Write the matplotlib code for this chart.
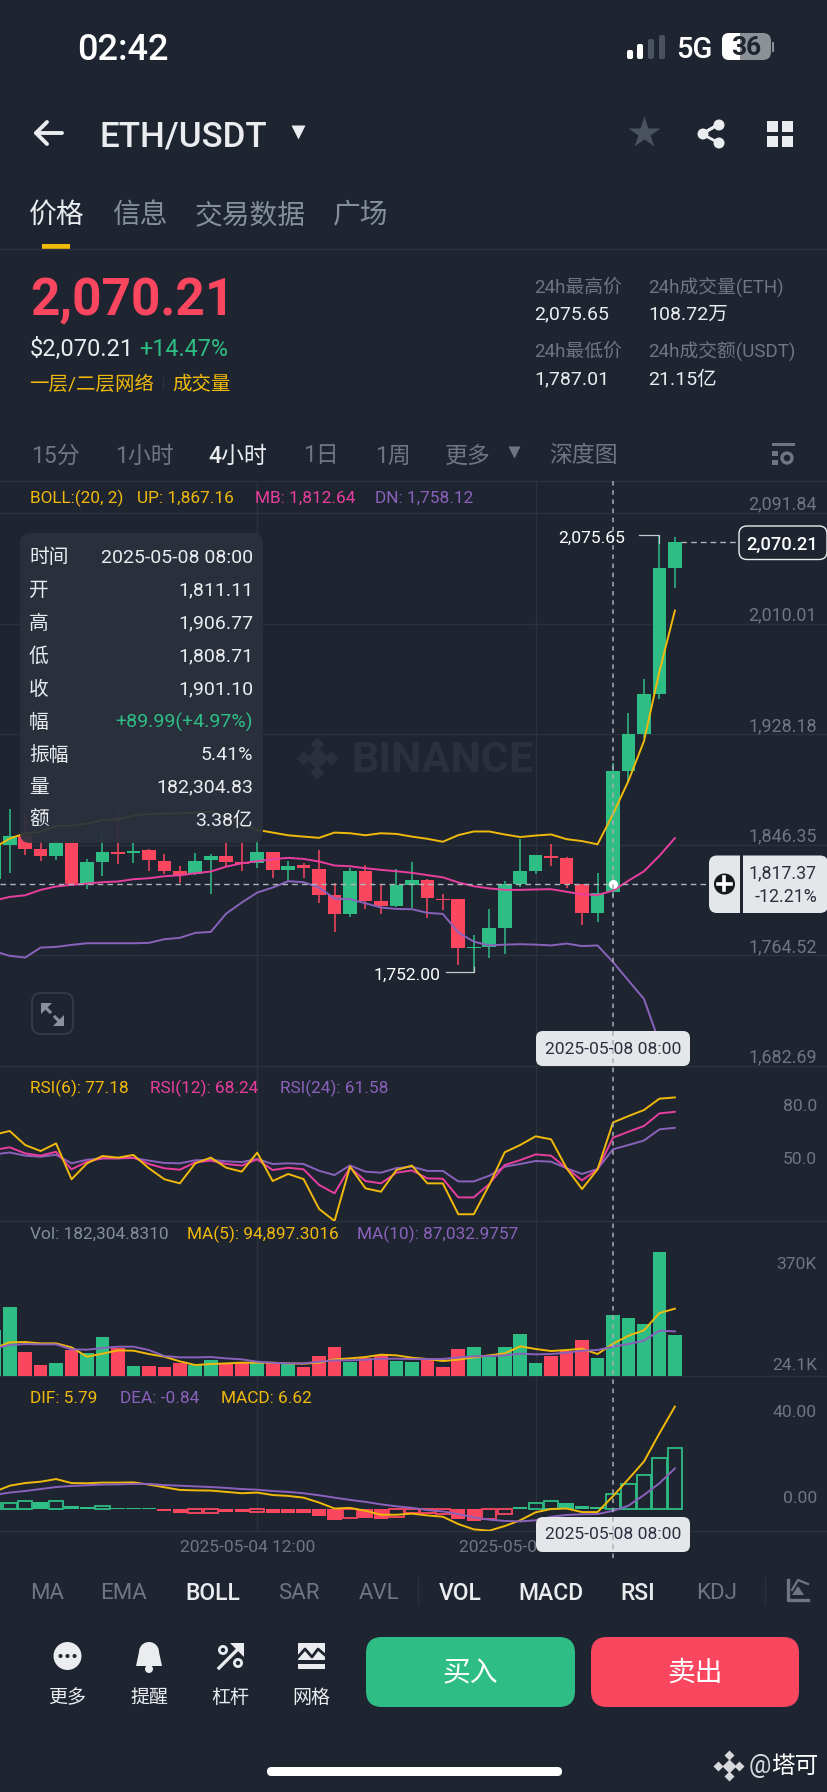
import matplotlib
matplotlib.use('Agg')
import matplotlib.pyplot as plt
from matplotlib.patches import FancyBboxPatch, Rectangle, Circle, Polygon

plt.rcParams['font.family'] = ['Roboto', 'Noto Sans CJK SC', 'DejaVu Sans']

# index -1 is the candle cut off by the left edge
idx = list(range(-1, 44))

opens = [1820.9, 1846.0, 1853.4, 1843.1, 1838.4, 1847.8, 1817.7, 1833.7, 1841.1, 1840.1, 1842.3, 1834.7, 1826.6, 1824.8, 1834.9,
         1838.1, 1833.7, 1832.7, 1841.1, 1828.0, 1831.2, 1828.5, 1809.0, 1795.0, 1826.8, 1804.6, 1801.4, 1816.9, 1820.4, 1806.1,
         1806.1, 1770.0, 1770.6, 1785.1, 1817.1, 1826.7, 1838.2, 1836.3, 1817.4, 1796.0, 1811.11, 1901.1, 1928.5, 1957.8, 2051.1]
closes = [1846.8, 1852.9, 1843.1, 1838.4, 1847.8, 1817.7, 1833.5, 1841.1, 1839.9, 1842.1, 1835.2, 1826.8, 1824.3, 1834.4, 1838.4,
          1833.9, 1832.5, 1840.9, 1828.0, 1830.7, 1829.0, 1809.3, 1795.0, 1826.8, 1804.9, 1801.4, 1816.7, 1820.1, 1806.7, 1805.6,
          1770.3, 1770.6, 1785.1, 1817.1, 1826.7, 1838.5, 1836.5, 1817.4, 1796.0, 1810.8, 1901.1, 1928.5, 1957.8, 2051.1, 2070.21]
highs = [1846.8, 1873.2, 1870.2, 1849.2, 1851.0, 1851.7, 1835.7, 1854.7, 1870.9, 1848.0, 1843.6, 1839.4, 1830.7, 1840.4, 1839.4,
         1848.5, 1848.5, 1849.7, 1841.1, 1834.2, 1833.2, 1842.3, 1818.4, 1829.5, 1831.5, 1817.2, 1828.7, 1833.7, 1821.2, 1809.7,
         1806.1, 1779.6, 1799.0, 1819.8, 1850.5, 1838.5, 1847.2, 1837.4, 1817.4, 1825.8, 1906.77, 1943.8, 1968.7, 2075.65, 2074.1]
lows = [1811.0, 1825.8, 1838.9, 1834.0, 1835.4, 1817.7, 1813.5, 1823.3, 1832.0, 1833.0, 1827.0, 1824.8, 1817.9, 1824.3, 1810.3,
        1830.7, 1827.0, 1829.5, 1822.1, 1819.6, 1822.1, 1803.1, 1782.2, 1793.3, 1798.7, 1795.0, 1800.4, 1799.9, 1792.5, 1797.9,
        1757.7, 1752.0, 1762.4, 1765.9, 1814.9, 1824.5, 1830.8, 1814.6, 1787.0, 1789.2, 1808.71, 1892.4, 1925.2, 1953.9, 2036.6]

boll_up = [1844.3, 1850.9, 1854.9, 1855.9, 1860.4, 1860.4, 1862.1, 1864.6, 1865.3, 1868.0, 1869.2, 1869.5, 1869.7, 1870.0, 1870.9,
           1866.5, 1861.6, 1857.4, 1855.4, 1853.4, 1852.4, 1851.5, 1855.4, 1854.9, 1853.4, 1854.9, 1854.4, 1852.4, 1850.8, 1848.6,
           1853.5, 1856.2, 1856.2, 1854.0, 1852.1, 1853.2, 1854.0, 1850.5, 1849.1, 1846.7, 1869.1, 1893.7, 1923.0, 1974.5, 2019.6]
boll_mb = [1805.1, 1807.8, 1809.0, 1813.0, 1815.5, 1816.7, 1817.7, 1818.7, 1819.2, 1820.9, 1821.6, 1823.1, 1823.8, 1825.3, 1826.6,
           1830.2, 1832.7, 1834.2, 1835.7, 1836.7, 1835.9, 1834.0, 1831.0, 1830.5, 1829.0, 1827.8, 1826.8, 1825.6, 1823.9, 1822.3,
           1818.5, 1815.7, 1814.1, 1813.0, 1813.0, 1813.3, 1813.5, 1811.6, 1809.7, 1809.2, 1812.4, 1819.8, 1826.7, 1838.2, 1851.3]
boll_dn = [1767.6, 1764.2, 1762.9, 1770.3, 1770.8, 1772.3, 1773.5, 1773.5, 1773.5, 1773.5, 1773.8, 1776.5, 1777.5, 1781.2, 1781.9,
           1795.5, 1803.6, 1811.0, 1814.7, 1819.4, 1818.7, 1814.7, 1806.6, 1806.1, 1803.1, 1799.9, 1798.9, 1798.7, 1796.0, 1795.2,
           1781.5, 1774.7, 1771.9, 1772.5, 1772.8, 1772.5, 1771.9, 1773.3, 1771.4, 1771.9, 1759.6, 1745.9, 1732.3, 1700.0, 1683.0]

rsi6 = [63.3, 65.4, 57.5, 54.1, 58.4, 38.2, 47.2, 51.3, 50.4, 51.9, 44.4, 38.2, 35.9, 47.2, 50.4,
        44.7, 42.5, 53.2, 37.2, 41.2, 38.3, 21.5, 14.7, 45.3, 33.1, 31.2, 43.4, 45.9, 35.9, 35.9,
        18.5, 18.5, 35.0, 53.4, 57.5, 62.4, 60.7, 44.4, 32.7, 43.8, 70.2, 73.8, 77.2, 83.6, 84.3]
rsi12 = [54.7, 56.2, 52.8, 51.5, 53.7, 43.8, 48.1, 50.0, 50.0, 50.4, 46.8, 44.4, 43.6, 47.7, 48.7,
         46.8, 45.9, 49.4, 43.4, 44.7, 43.8, 35.0, 30.3, 44.9, 37.2, 35.9, 41.9, 43.2, 38.7, 38.5,
         28.0, 28.0, 35.5, 46.2, 49.0, 52.2, 51.5, 44.4, 37.6, 43.8, 61.6, 65.0, 68.2, 75.3, 76.2]
rsi24 = [52.2, 53.3, 51.5, 50.9, 52.0, 47.2, 49.2, 50.0, 50.0, 50.2, 48.7, 47.4, 47.2, 48.9, 49.2,
         48.3, 47.9, 49.6, 46.8, 47.2, 46.8, 43.0, 40.6, 46.0, 42.5, 41.9, 44.5, 45.3, 42.9, 42.9,
         37.0, 37.0, 40.2, 45.3, 46.8, 48.5, 48.1, 44.4, 41.2, 44.0, 55.1, 57.5, 60.0, 66.3, 67.2]

# volumes in thousands
vols = [137, 207, 71, 33, 37, 77, 67, 116, 83, 30, 28, 26, 39, 32, 47,
        38, 40, 38, 38, 35, 27, 59, 86, 42, 52, 61, 43, 42, 50, 25,
        80, 86, 55, 86, 126, 38, 58, 75, 106, 52, 182.3, 174, 155, 370, 123]
vol_ma5 = [82, 100, 101, 97, 97, 85, 57, 66, 76, 75, 65, 57, 43, 32, 35,
           37, 39, 39, 39, 37, 36, 39, 49, 52, 56, 63, 61, 54, 50, 44,
           48, 55, 61, 67, 88, 80, 74, 77, 81, 65, 96, 120, 136, 188, 201]
vol_ma10 = [82, 92, 95, 94, 94, 79, 78, 83, 87, 87, 77, 59, 55, 55, 56,
            52, 49, 42, 39, 37, 37, 42, 46, 46, 48, 51, 51, 50, 50, 50,
            55, 58, 59, 61, 66, 64, 65, 69, 75, 77, 87, 95, 105, 135, 133]

dif = [7.7, 10.5, 11.7, 12.3, 13.5, 11.7, 11.6, 11.9, 11.9, 12.0, 11.0, 9.8, 8.6, 8.4, 8.3,
       7.7, 7.1, 7.4, 6.3, 5.9, 5.1, 2.9, 0.2, 0.5, -0.8, -2.6, -2.6, -2.1, -2.9, -3.5,
       -6.8, -9.2, -9.8, -7.7, -5.1, -1.5, 0.0, 0.2, -1.4, -1.4, 5.79, 13.5, 21.4, 34.1, 46.2]
dea = [6.3, 7.4, 8.1, 9.0, 9.9, 10.4, 10.7, 11.0, 11.1, 11.3, 11.3, 10.8, 10.5, 10.2, 9.9,
       9.5, 9.0, 8.7, 8.1, 7.7, 7.1, 6.2, 5.1, 4.1, 3.2, 2.1, 1.2, 0.5, -0.5, -1.1,
       -2.3, -3.8, -4.8, -5.4, -5.6, -5.1, -3.5, -2.7, -2.4, -2.3, -0.84, 1.5, 6.3, 11.6, 18.3]
macd = [2.9, 2.9, 3.8, 3.2, 3.8, 1.4, 0.8, 1.4, 0.6, 0.6, 0.6, -0.8, -1.7, -2.0, -1.7,
        -1.4, -1.5, -1.4, -1.7, -1.8, -2.0, -3.2, -4.8, -3.9, -4.1, -4.5, -3.8, -2.0, -1.7, -2.4,
        -4.5, -5.4, -4.5, -2.4, 1.1, 2.6, 3.8, 2.9, 1.2, 0.9, 6.62, 11.3, 15.5, 23.0, 27.7]
macd_hollow = [1, 1, 1, 0, 1, 0, 0, 1, 0, 0, 0, 0, 0, 1, 1,
               0, 0, 1, 0, 0, 0, 0, 0, 1, 0, 0, 1, 1, 1, 1,
               0, 0, 1, 1, 0, 1, 1, 0, 0, 0, 1, 1, 1, 1, 1]

price_ticks = [2091.84, 2010.01, 1928.18, 1846.35, 1764.52, 1682.69]
tooltip_names = ['时间', '开', '高', '低', '收', '幅', '振幅', '量', '额']
tooltip_vals = ['2025-05-08 08:00', '1,811.11', '1,906.77', '1,808.71', '1,901.10', '+89.99(+4.97%)', '5.41%', '182,304.83', '3.38亿']

BG = '#1e2530'
GRID = '#2b323e'
GREEN = '#2ebd85'
RED = '#fb4660'
YELLOW = '#f0b90b'
PINK = '#e83e9f'
PURPLE = '#8a62bc'
GRAY = '#848e9c'
DIM = '#6f7682'
WHITE = '#eaecef'
LIGHT = '#e4e6ea'

colors = [GREEN if c >= o else RED for o, c in zip(opens, closes)]

fig = plt.figure(figsize=(8.28, 17.92), dpi=100, facecolor=BG)


def chrome(z):
    a = fig.add_axes([0, 0, 1, 1], zorder=z)
    a.set_xlim(0, 828)
    a.set_ylim(1792, 0)
    a.axis('off')
    a.patch.set_alpha(0)
    return a


def panel(y0, y1, ymin, ymax):
    a = fig.add_axes([0, 1 - y1 / 1792, 1, (y1 - y0) / 1792], zorder=1)
    a.set_xlim(-9.67 / 15.47, (828 - 9.67) / 15.47)
    a.set_ylim(ymin, ymax)
    a.axis('off')
    a.patch.set_alpha(0)
    return a


def txt(a, x, y, s, size, color, ha='left', weight='normal'):
    # va center sits a little high for these fonts, so push down with the size
    a.text(x, y + size * 0.12, s, fontsize=size, color=color, ha=ha, va='center', fontweight=weight)


def box(a, x0, y0, x1, y1, r, **kw):
    a.add_patch(FancyBboxPatch((x0 + r, y0 + r), x1 - x0 - 2 * r, y1 - y0 - 2 * r,
                               boxstyle='round,pad=%f,rounding_size=%f' % (r, r), **kw))


back = chrome(0)
top = chrome(2)
over = chrome(3)

# ---- status bar and header
txt(back, 77, 47, '02:42', 26, 'white', weight='medium')
for x, y0, c in zip([627, 637, 648, 659], [50, 44, 39, 35], ['white', 'white', '#4a5260', '#4a5260']):
    box(back, x, y0, x + 6, 59, 2, fc=c, ec='none')
txt(back, 676, 47, '5G', 21, 'white', weight='medium')
box(back, 722, 33, 771, 60, 8, fc='#8c9097', ec='none')
box(back, 722, 33, 740, 60, 7, fc='white', ec='none')
back.add_patch(Rectangle((733, 33), 7, 27, fc='white', ec='none'))
txt(back, 746, 46, '36', 19, BG, ha='center', weight='bold')
back.add_patch(Rectangle((772.5, 42), 2, 10, fc='#8c9097', ec='none'))

back.plot([36, 62], [133, 133], color=WHITE, lw=2.8, solid_capstyle='round')
back.plot([47, 36, 47], [122, 133, 144], color=WHITE, lw=2.8, solid_capstyle='round')
txt(back, 100, 134, 'ETH/USDT', 25.2, WHITE, weight='medium')
back.plot(298, 132, marker='v', ms=10, color=WHITE, mec='none')
back.plot(644, 133, marker='*', ms=24, color='#4a5260', mec='none')
back.plot([702, 719, 702, 719], [134, 124, 134, 143], color=WHITE, lw=2)
for x, y in [(703, 134), (719, 125), (719, 143)]:
    back.add_patch(Circle((x, y), 5.5, fc=WHITE, ec='none'))
for x, y in [(767, 121), (782, 121), (767, 136), (782, 136)]:
    back.add_patch(Rectangle((x, y), 11.5, 11.5, fc=WHITE, ec='none'))

txt(back, 29, 213, '价格', 20, WHITE)
txt(back, 112, 213, '信息', 20, GRAY)
txt(back, 195, 213, '交易数据', 20, GRAY)
txt(back, 333, 213, '广场', 20, GRAY)
back.add_patch(Rectangle((42, 244), 28, 5, fc=YELLOW, ec='none'))
back.plot([0, 828], [249.5, 249.5], color=GRID, lw=1)

# ---- price block
txt(back, 30, 297, '2,070.21', 37, RED, weight='bold')
txt(back, 30, 347, '$2,070.21', 17, WHITE)
txt(back, 139, 347, '+14.47%', 16.8, GREEN)
txt(back, 29, 383, '一层/二层网络', 14, YELLOW)
back.plot([163, 163], [377, 389], color=GRID, lw=1)
txt(back, 172, 383, '成交量', 14, YELLOW)
txt(back, 534, 286, '24h最高价', 13.5, DIM)
txt(back, 648, 286, '24h成交量(ETH)', 13.5, DIM)
txt(back, 534, 313, '2,075.65', 14, WHITE)
txt(back, 648, 313, '108.72万', 14, WHITE)
txt(back, 534, 350, '24h最低价', 13.5, DIM)
txt(back, 648, 350, '24h成交额(USDT)', 13.5, DIM)
txt(back, 534, 378, '1,787.01', 14, WHITE)
txt(back, 648, 378, '21.15亿', 14, WHITE)

# ---- interval row
for x, s in zip([31, 115, 303, 375, 445, 549], ['15分', '1小时', '1日', '1周', '更多', '深度图']):
    txt(back, x, 454, s, 16.5, DIM)
txt(back, 208, 454, '4小时', 16.5, WHITE, weight='medium')
back.plot(514, 452, marker='v', ms=8, color=DIM, mec='none')
back.add_patch(Rectangle((772, 443), 23, 3, fc=DIM, ec='none'))
back.add_patch(Rectangle((772, 451), 6, 5, fc=DIM, ec='none'))
back.add_patch(Rectangle((772, 460), 6, 5, fc=DIM, ec='none'))
back.add_patch(Circle((787, 458), 5, fc='none', ec=DIM, lw=2.4))

# ---- grid behind the panels
for y in [481, 513, 1066, 1221, 1376, 1530.7]:
    back.plot([0, 828], [y, y], color=GRID, lw=1)
for x in [257, 535.7]:
    back.plot([x, x], [481, 1530.7], color=GRID, lw=1)

# ---- watermark
back.text(351, 761, 'BINANCE', fontsize=31, color='#2a313d', va='center', fontweight='bold')
for x, y, s in [(317, 758, 11), (303, 758, 7), (331, 758, 7), (317, 744, 7), (317, 772, 7)]:
    back.plot(x, y, marker='D', ms=s, color='#2a313d', mec='none')

# ---- candles
ax_price = panel(513, 1066, price_ticks[-1], price_ticks[0])
for y in price_ticks[1:-1]:
    ax_price.axhline(y, color=GRID, lw=1, zorder=0)
ax_price.vlines(idx, lows, highs, colors=colors, lw=1.1, zorder=2)
ax_price.bar(idx, [abs(c - o) for o, c in zip(opens, closes)], bottom=[min(o, c) for o, c in zip(opens, closes)],
             width=0.885, color=colors, zorder=2)
ax_price.plot(idx, boll_up, color=YELLOW, lw=1.4, zorder=3)
ax_price.plot(idx, boll_mb, color=PINK, lw=1.4, zorder=3)
ax_price.plot(idx, boll_dn, color=PURPLE, lw=1.4, zorder=3)
ax_price.axhline(1817.37, xmin=0, xmax=709 / 828, color='#aeb3ba', lw=1, dashes=(4, 3), zorder=4)
ax_price.plot([43.4, 52], [2070.21, 2070.21], color='#aeb3ba', lw=1, dashes=(4, 3), zorder=4)
ax_price.plot(39, 1817.37, 'o', ms=6.5, color='white', mec='none', zorder=6)
ax_price.plot([40.7, 42, 42], [2075.65, 2075.65, 2070], color='#c4c8ce', lw=0.9, zorder=5)
ax_price.plot([28.2, 30, 30], [1752.0, 1752.0, 1756], color='#c4c8ce', lw=0.9, zorder=5)
for y in price_ticks:
    ax_price.annotate(format(y, ',.2f'), xy=(1, y), xycoords=('axes fraction', 'data'),
                      xytext=(-8, 6), textcoords='offset points', fontsize=12.9, color=DIM,
                      ha='right', va='center', annotation_clip=False)

txt(back, 30, 497, 'BOLL:(20, 2)', 12.4, YELLOW)
txt(back, 137, 497, 'UP: 1,867.16', 12.4, YELLOW)
txt(back, 255, 497, 'MB: 1,812.64', 12.4, PINK)
txt(back, 375, 497, 'DN: 1,758.12', 12.4, PURPLE)

# ---- RSI
ax_rsi = panel(1066, 1221, 14.7, 102)
ax_rsi.plot(idx, rsi24, color=PURPLE, lw=1.4)
ax_rsi.plot(idx, rsi12, color=PINK, lw=1.4)
ax_rsi.plot(idx, rsi6, color=YELLOW, lw=1.4)
txt(back, 30, 1087, 'RSI(6): 77.18', 12.4, YELLOW)
txt(back, 150, 1087, 'RSI(12): 68.24', 12.4, PINK)
txt(back, 280, 1087, 'RSI(24): 61.58', 12.4, PURPLE)
txt(back, 817, 1105, '80.0', 12.6, DIM, ha='right')
txt(back, 817, 1158, '50.0', 12.6, DIM, ha='right')

# ---- volume
ax_vol = panel(1221, 1375.7, 0, 464)
ax_vol.bar(idx, vols, width=0.885, color=colors)
ax_vol.plot(idx, vol_ma5, color=YELLOW, lw=1.4)
ax_vol.plot(idx, vol_ma10, color=PURPLE, lw=1.4)
txt(back, 30, 1233, 'Vol: 182,304.8310', 12.4, GRAY)
txt(back, 187, 1233, 'MA(5): 94,897.3016', 12.4, YELLOW)
txt(back, 357, 1233, 'MA(10): 87,032.9757', 12.4, PURPLE)
txt(back, 817, 1263, '370K', 12.6, DIM, ha='right')
txt(back, 817, 1364, '24.1K', 12.6, DIM, ha='right')

# ---- MACD
ax_macd = panel(1376, 1530.7, -9.8, 60)
for i, m, h in zip(idx, macd, macd_hollow):
    c = GREEN if m >= 0 else RED
    if h:
        ax_macd.bar(i, m, width=0.92, facecolor='none', edgecolor=c, lw=1.3)
    else:
        ax_macd.bar(i, m, width=0.92, color=c)
ax_macd.plot(idx, dif, color=YELLOW, lw=1.4)
ax_macd.plot(idx, dea, color=PURPLE, lw=1.4)
txt(back, 30, 1397, 'DIF: 5.79', 12.4, YELLOW)
txt(back, 120, 1397, 'DEA: -0.84', 12.4, PURPLE)
txt(back, 221, 1397, 'MACD: 6.62', 12.4, YELLOW)
txt(back, 817, 1411, '40.00', 12.6, DIM, ha='right')
txt(back, 817, 1497, '0.00', 12.6, DIM, ha='right')

txt(back, 248, 1546, '2025-05-04 12:00', 12.5, DIM, ha='center')
txt(back, 527, 1546, '2025-05-07 12:00', 12.5, DIM, ha='center')

# ---- crosshair and overlays
top.plot([613, 613], [481, 1562], color='#a8adb5', lw=1.1, dashes=(3, 3))

box(top, 20, 533, 263, 843, 10, fc='#2a313d', ec='none', alpha=0.93)
for y, n, v in zip([556, 589, 621.7, 654.7, 687.3, 720.3, 753.3, 786, 819], tooltip_names, tooltip_vals):
    txt(top, 29, y, n, 14.2, WHITE)
    txt(top, 253, y, v, 14, GREEN if v.startswith('+') else WHITE, ha='right')

txt(top, 625, 537, '2,075.65', 12.6, 'white', ha='right')
txt(top, 441, 974, '1,752.00', 12.6, 'white', ha='right')
box(top, 739, 526, 827, 559.5, 8, fc=BG, ec=WHITE, lw=1)
txt(top, 782.5, 543, '2,070.21', 13.2, 'white', ha='center', weight='medium')

box(top, 709, 855.5, 828, 913, 8, fc=LIGHT, ec='none')
top.add_patch(Rectangle((740.5, 855.5), 2.5, 57.5, fc=BG, ec='none'))
top.add_patch(Circle((724.5, 884), 10.5, fc='#15191f', ec='none'))
top.plot([718, 731], [884, 884], color='white', lw=2.6)
top.plot([724.5, 724.5], [877.5, 890.5], color='white', lw=2.6)
txt(top, 817, 872, '1,817.37', 12.8, '#2a313d', ha='right')
txt(top, 817, 895, '-12.21%', 12.8, '#2a313d', ha='right')

box(top, 536, 1031, 690, 1066, 7, fc=LIGHT, ec='none')
txt(top, 613, 1048, '2025-05-08 08:00', 12.6, '#2a313d', ha='center')
box(top, 536, 1517, 690, 1552, 7, fc=LIGHT, ec='none')
txt(top, 613, 1533, '2025-05-08 08:00', 12.6, '#2a313d', ha='center')

# expand button
box(back, 32, 993, 73, 1034, 9, fc='none', ec='#343b47', lw=1.4)
back.add_patch(Polygon([[41, 1003], [52, 1003], [41, 1014]], fc='#8a909c', ec='none'))
back.add_patch(Polygon([[64, 1026], [53, 1026], [64, 1015]], fc='#8a909c', ec='none'))
back.plot([45, 50], [1007, 1012], color='#8a909c', lw=2.2)
back.plot([55, 60], [1017, 1022], color='#8a909c', lw=2.2)

# ---- indicator tabs
for x, s in zip([30, 100, 278, 359, 696], ['MA', 'EMA', 'SAR', 'AVL', 'KDJ']):
    txt(back, x, 1592, s, 16, DIM)
for x, s in zip([185, 439, 518, 620], ['BOLL', 'VOL', 'MACD', 'RSI']):
    txt(back, x, 1592, s, 16.5, WHITE, weight='medium')
back.plot([418, 418], [1577, 1605], color=GRID, lw=1)
back.plot([765, 765], [1577, 1605], color=GRID, lw=1)
back.plot([788, 788, 808], [1580, 1600, 1600], color=DIM, lw=2.4)
back.add_patch(Polygon([[792, 1595], [798, 1586], [804, 1595]], fc=DIM, ec='none'))
back.plot([792, 798, 808], [1590, 1580, 1584], color=DIM, lw=1.6)

# ---- bottom bar
back.add_patch(Circle((67.5, 1656), 14, fc=WHITE, ec='none'))
for x in [60.5, 67.5, 74.5]:
    back.add_patch(Circle((x, 1656), 2, fc=BG, ec='none'))
back.add_patch(Circle((149, 1652), 10, fc=WHITE, ec='none'))
back.add_patch(Polygon([[139, 1652], [159, 1652], [162, 1666], [136, 1666]], fc=WHITE, ec='none'))
back.add_patch(Circle((149, 1669), 4, fc=WHITE, ec='none'))
back.plot([219, 240], [1668, 1647], color=WHITE, lw=2.4)
back.add_patch(Polygon([[230, 1643], [244, 1643], [244, 1657]], fc=WHITE, ec='none'))
back.add_patch(Circle((223, 1650), 3.6, fc='none', ec=WHITE, lw=2))
back.add_patch(Circle((238, 1663), 3.6, fc='none', ec=WHITE, lw=2))
back.add_patch(Rectangle((298, 1643), 27, 17, fc=WHITE, ec='none'))
back.plot([298, 305, 312, 318, 325], [1657, 1649, 1657, 1649, 1655], color=BG, lw=2)
back.add_patch(Rectangle((298, 1664), 27, 5, fc=WHITE, ec='none'))
for x, s in zip([67.5, 149, 230, 311], ['更多', '提醒', '杠杆', '网格']):
    txt(back, x, 1696, s, 13.7, WHITE, ha='center')

box(back, 366, 1637, 575, 1707, 16, fc=GREEN, ec='none')
box(back, 591, 1637, 799, 1707, 16, fc=RED, ec='none')
txt(back, 470, 1671, '买入', 20, 'white', ha='center')
txt(back, 695, 1671, '卖出', 20, 'white', ha='center', weight='medium')

box(back, 267, 1767, 562, 1776, 4.4, fc='white', ec='none')

# watermark in the corner
for x, y, s in [(729, 1766, 7), (718.5, 1766, 5), (739.5, 1766, 5), (729, 1755.5, 5), (729, 1776.5, 5)]:
    over.plot(x, y, marker='D', ms=s, color='#d6d8dc', mec='none')
txt(over, 749, 1764, '@', 18, '#d6d8dc')
txt(over, 771, 1764, '塔可', 17, 'white', weight='medium')

fig.savefig('out.png', dpi=100, facecolor=BG)
